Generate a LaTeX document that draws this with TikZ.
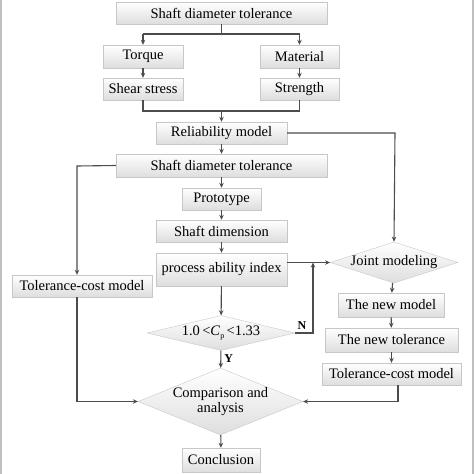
\documentclass[tikz,border=0pt]{standalone}
\usepackage{fontspec}
\setmainfont{Liberation Serif}
\usetikzlibrary{shapes.geometric,arrows.meta,shadings}
\begin{document}
\begin{tikzpicture}[x=1pt,y=-1pt,
  box/.style={rectangle, draw=black!22, top color=white, bottom color=black!13, inner sep=0pt, font=\fontsize{14.5}{16}\selectfont, align=center},
  dia/.style={diamond, draw=black!22, top color=white, bottom color=black!13, inner sep=0pt, font=\fontsize{14.5}{16}\selectfont, align=center},
  conn/.style={draw=black!70, line width=1.1pt},
  arr/.style={conn, -{Stealth[length=5pt,width=4.5pt]}},
  lbl/.style={font=\fontsize{12}{14}\selectfont\bfseries, inner sep=1pt}]
\useasboundingbox (0,0) rectangle (474,474);
\fill[black!25] (0,0) rectangle (2,474);
\fill[black!25] (472,0) rectangle (474,474);
% boxes
\node[box, minimum width=211pt, minimum height=22pt] (sdt1) at (221.5,13) {Shaft diameter tolerance};
\node[box, minimum width=80pt, minimum height=23pt] (torque) at (143,56.5) {Torque};
\node[box, minimum width=79pt, minimum height=23pt] (material) at (299.5,56.5) {Material};
\node[box, minimum width=80pt, minimum height=22pt] (shear) at (143,89) {Shear stress};
\node[box, minimum width=79pt, minimum height=22pt] (strength) at (299.5,89) {Strength};
\node[box, minimum width=131pt, minimum height=22pt] (rel) at (221.5,133) {Reliability model};
\node[box, minimum width=211pt, minimum height=23pt] (sdt2) at (221.5,165.5) {Shaft diameter tolerance};
\node[box, minimum width=79pt, minimum height=22pt] (proto) at (221.5,199) {Prototype};
\node[box, minimum width=131pt, minimum height=22pt] (sdim) at (221.5,231) {Shaft dimension};
\node[box, minimum width=131pt, minimum height=33pt] (pai) at (221.5,269.5) {process ability index};
\node[box, minimum width=140pt, minimum height=22pt] (tcm1) at (82,286) {Tolerance-cost model};
\node[dia, minimum width=122pt, minimum height=39pt, aspect=3.1] (joint) at (394,262.5) {Joint modeling};
\node[box, minimum width=106pt, minimum height=24pt] (nmodel) at (391,305) {The new model};
\node[box, minimum width=133pt, minimum height=24pt] (ntol) at (391.5,340) {The new tolerance};
\node[box, minimum width=139pt, minimum height=22pt] (tcm2) at (391.5,374) {Tolerance-cost model};
\node[dia, minimum width=148pt, minimum height=35pt, aspect=4.2] (cp) at (221,333) {1.0\,<\textit{C}\raisebox{-0.4ex}{\fontsize{8}{9}\selectfont p}\,<1.33};
\node[dia, minimum width=155pt, minimum height=63pt, aspect=2.46] (comp) at (220.5,401.5) {Comparison and\\[-1pt]analysis};
\node[box, minimum width=78pt, minimum height=24pt] (concl) at (221,460) {Conclusion};
% coordinates
\coordinate (b1) at (221.5,34);
\coordinate (bl) at (143,34);
\coordinate (br) at (299.5,34);
\coordinate (m1) at (143,111);
\coordinate (m2) at (299.5,111);
\coordinate (m3) at (221.5,111);
\coordinate (rj) at (395,133);
\coordinate (sl) at (77,166);
\coordinate (nx) at (313,333);
\coordinate (ny) at (313,262.5);
\coordinate (lb) at (77,401.5);
\coordinate (rb) at (398,401.5);
% connectors
\draw[conn] (sdt1.south) -- (b1);
\draw[conn] (bl) -- (br);
\draw[arr] (bl) -- (torque.north);
\draw[arr] (br) -- (material.north);
\draw[arr] (torque) -- (shear);
\draw[arr] (material) -- (strength);
\draw[conn] (shear.south) -- (m1) -- (m2) -- (strength.south);
\draw[arr] (m3) -- (rel.north);
\draw[arr] (rel.east) -- (rj) -- (joint.north);
\draw[arr] (rel) -- (sdt2);
\draw[arr] (sdt2.west) -- (sl) -- (sl |- tcm1.north);
\draw[arr] (sdt2) -- (proto);
\draw[arr] (proto) -- (sdim);
\draw[arr] (sdim) -- (pai);
\draw[arr] (pai.east |- joint.west) -- (joint.west);
\draw[arr] (pai) -- (cp);
\draw[arr] (cp.east) -- (nx) -- (ny);
\node[lbl, anchor=south] at (302,331) {N};
\draw[arr] (cp) -- node[lbl, right=2pt, pos=0.45] {Y} (comp);
\draw[arr] (joint) -- (nmodel);
\draw[arr] (nmodel) -- (ntol);
\draw[arr] (ntol) -- (tcm2);
\draw[arr] (sl |- tcm1.south) -- (lb) -- (comp.west);
\draw[arr] (rb |- tcm2.south) -- (rb) -- (comp.east);
\draw[arr] (comp) -- (concl);
\end{tikzpicture}
\end{document}
